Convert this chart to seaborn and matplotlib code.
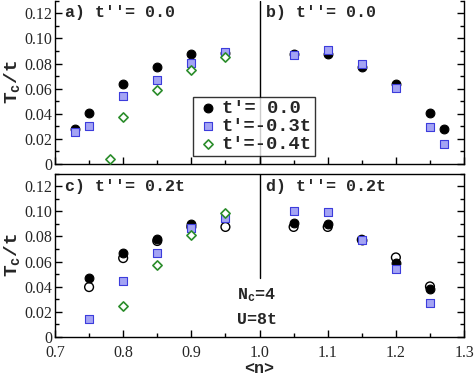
import numpy as np
import matplotlib
matplotlib.use("Agg")
import matplotlib.pyplot as plt
from matplotlib.ticker import MultipleLocator, FuncFormatter
import seaborn as sns

# ---------------------------------------------------------------- data
# top panel (t'' = 0.0), panels a) and b)
n_top_circ = [0.73, 0.75, 0.80, 0.85, 0.90, 0.95, 1.05, 1.10, 1.15, 1.20, 1.25, 1.27]
tc_top_circ = [0.0276, 0.0404, 0.0637, 0.0773, 0.0876, 0.0880,
               0.0876, 0.0874, 0.0773, 0.0637, 0.0404, 0.0276]
n_top_sq = [0.73, 0.75, 0.80, 0.85, 0.90, 0.95, 1.05, 1.10, 1.15, 1.20, 1.25, 1.27]
tc_top_sq = [0.0257, 0.0303, 0.0544, 0.0669, 0.0807, 0.0895,
             0.0866, 0.0908, 0.0797, 0.0603, 0.0295, 0.0162]
n_top_dia = [0.78, 0.80, 0.85, 0.90, 0.95]
tc_top_dia = [0.0037, 0.0374, 0.0590, 0.0747, 0.0850]

# bottom panel (t'' = 0.2t), panels c) and d)
n_bot_circ = [0.75, 0.80, 0.85, 0.90, 1.05, 1.10, 1.15, 1.20, 1.25]
tc_bot_circ = [0.0469, 0.0668, 0.0782, 0.0902, 0.0908, 0.0900, 0.0774, 0.0588, 0.0381]
n_bot_open = [0.75, 0.80, 0.85, 0.90, 0.95, 1.05, 1.10, 1.15, 1.20, 1.25]
tc_bot_open = [0.0397, 0.0628, 0.0764, 0.0876, 0.0876, 0.0876, 0.0876, 0.0774, 0.0633, 0.0402]
n_bot_sq = [0.75, 0.80, 0.85, 0.90, 0.95, 1.05, 1.10, 1.15, 1.20, 1.25]
tc_bot_sq = [0.0144, 0.0442, 0.0668, 0.0868, 0.0948, 0.1006, 0.0995, 0.0774, 0.0540, 0.0269]
n_bot_dia = [0.80, 0.85, 0.90, 0.95]
tc_bot_dia = [0.0248, 0.0569, 0.0809, 0.0985]

legend_labels = ["t'= 0.0", "t'=-0.3t", "t'=-0.4t"]

SQ_FACE, SQ_EDGE = "#a4a4f4", "#3c3cdc"
DIA_EDGE = "#2a8c2a"

sns.set_style("ticks")
plt.rcParams["font.family"] = ["Liberation Serif", "DejaVu Serif"]
plt.rcParams["mathtext.fontset"] = "custom"
plt.rcParams["mathtext.rm"] = "Liberation Mono:bold"
plt.rcParams["mathtext.it"] = "Liberation Mono:bold"
MONO = dict(family="Liberation Mono", weight="bold")


def style_axis(ax, show_xlabels):
    ax.set_xlim(0.7, 1.3)
    ax.set_ylim(0, 0.13)
    ax.xaxis.set_major_locator(MultipleLocator(0.1))
    ax.xaxis.set_minor_locator(MultipleLocator(0.05))
    ax.yaxis.set_major_locator(MultipleLocator(0.02))
    ax.yaxis.set_minor_locator(MultipleLocator(0.01))
    ax.yaxis.set_major_formatter(FuncFormatter(lambda v, p: "0" if abs(v) < 1e-9 else f"{v:.2f}"))
    ax.xaxis.set_major_formatter(FuncFormatter(lambda v, p: f"{v:.1f}"))
    ax.tick_params(which="both", direction="in", right=True, top=False,
                   labelsize=11.5, width=1, color="black")
    ax.tick_params(which="major", length=5)
    ax.tick_params(which="minor", length=3)
    ax.tick_params(axis="y", pad=2)
    ax.tick_params(axis="x", pad=6)
    if not show_xlabels:
        ax.tick_params(labelbottom=False)
    for s in ax.spines.values():
        s.set_linewidth(1.0)
        s.set_color("black")
    ax.set_xlabel("")
    ax.set_ylabel(r"$\mathrm{T_c/t}$", fontsize=14, labelpad=2)


fig = plt.figure(figsize=(4.74, 3.76), dpi=100)
ax1 = fig.add_axes([0.116, 0.564, 0.863, 0.434])
ax2 = fig.add_axes([0.116, 0.104, 0.863, 0.434])

# ---------------------------------------------------------------- top
ax1.axvline(1.0, color="black", lw=1)
sns.scatterplot(x=n_top_circ, y=tc_top_circ, ax=ax1, marker="o", s=40,
                color="black", edgecolor="black", linewidth=0.8,
                label=legend_labels[0], zorder=3)
sns.scatterplot(x=n_top_sq, y=tc_top_sq, ax=ax1, marker="s", s=32,
                color=SQ_FACE, edgecolor=SQ_EDGE, linewidth=0.8,
                label=legend_labels[1], zorder=4)
sns.scatterplot(x=n_top_dia, y=tc_top_dia, ax=ax1, marker="D", s=22,
                color="white", edgecolor=DIA_EDGE, linewidth=1.2,
                label=legend_labels[2], zorder=5)
style_axis(ax1, False)
ax1.spines["top"].set_visible(False)
leg = ax1.legend(loc="upper left", bbox_to_anchor=(0.337, 0.41), frameon=True,
                 fancybox=False, prop=dict(family="Liberation Mono", weight="bold", size=13.5),
                 handletextpad=0.1, borderpad=0.15, labelspacing=0.05,
                 handlelength=1.3, borderaxespad=0)
leg.get_frame().set_edgecolor("black")
leg.get_frame().set_linewidth(1.0)
leg.set_zorder(6)
ax1.text(0.024, 0.925, "a) t''= 0.0", transform=ax1.transAxes, fontsize=12,
         va="center", ha="left", **MONO)
ax1.text(0.516, 0.925, "b) t''= 0.0", transform=ax1.transAxes, fontsize=12,
         va="center", ha="left", **MONO)

# ---------------------------------------------------------------- bottom
ax2.axvline(1.0, ymin=0.047 / 0.13, ymax=1, color="black", lw=1)
sns.scatterplot(x=n_bot_circ, y=tc_bot_circ, ax=ax2, marker="o", s=40,
                color="black", edgecolor="black", linewidth=0.8, legend=False, zorder=3)
sns.scatterplot(x=n_bot_open, y=tc_bot_open, ax=ax2, marker="o", s=40,
                color="none", edgecolor="black", linewidth=1.0, legend=False, zorder=3)
sns.scatterplot(x=n_bot_sq, y=tc_bot_sq, ax=ax2, marker="s", s=32,
                color=SQ_FACE, edgecolor=SQ_EDGE, linewidth=0.8, legend=False, zorder=4)
sns.scatterplot(x=n_bot_dia, y=tc_bot_dia, ax=ax2, marker="D", s=22,
                color="white", edgecolor=DIA_EDGE, linewidth=1.2, legend=False, zorder=5)
style_axis(ax2, True)
ax2.text(0.024, 0.923, "c) t''= 0.2t", transform=ax2.transAxes, fontsize=12,
         va="center", ha="left", **MONO)
ax2.text(0.516, 0.923, "d) t''= 0.2t", transform=ax2.transAxes, fontsize=12,
         va="center", ha="left", **MONO)
ax2.text(0.967, 0.033, r"$\mathrm{N_c}$=4", fontsize=12, va="center", ha="left", **MONO)
ax2.text(0.967, 0.0136, "U=8t", fontsize=12, va="center", ha="left", **MONO)
ax2.set_xlabel("<n>", fontsize=12, labelpad=0, **MONO)

fig.savefig("out.png", dpi=100)
